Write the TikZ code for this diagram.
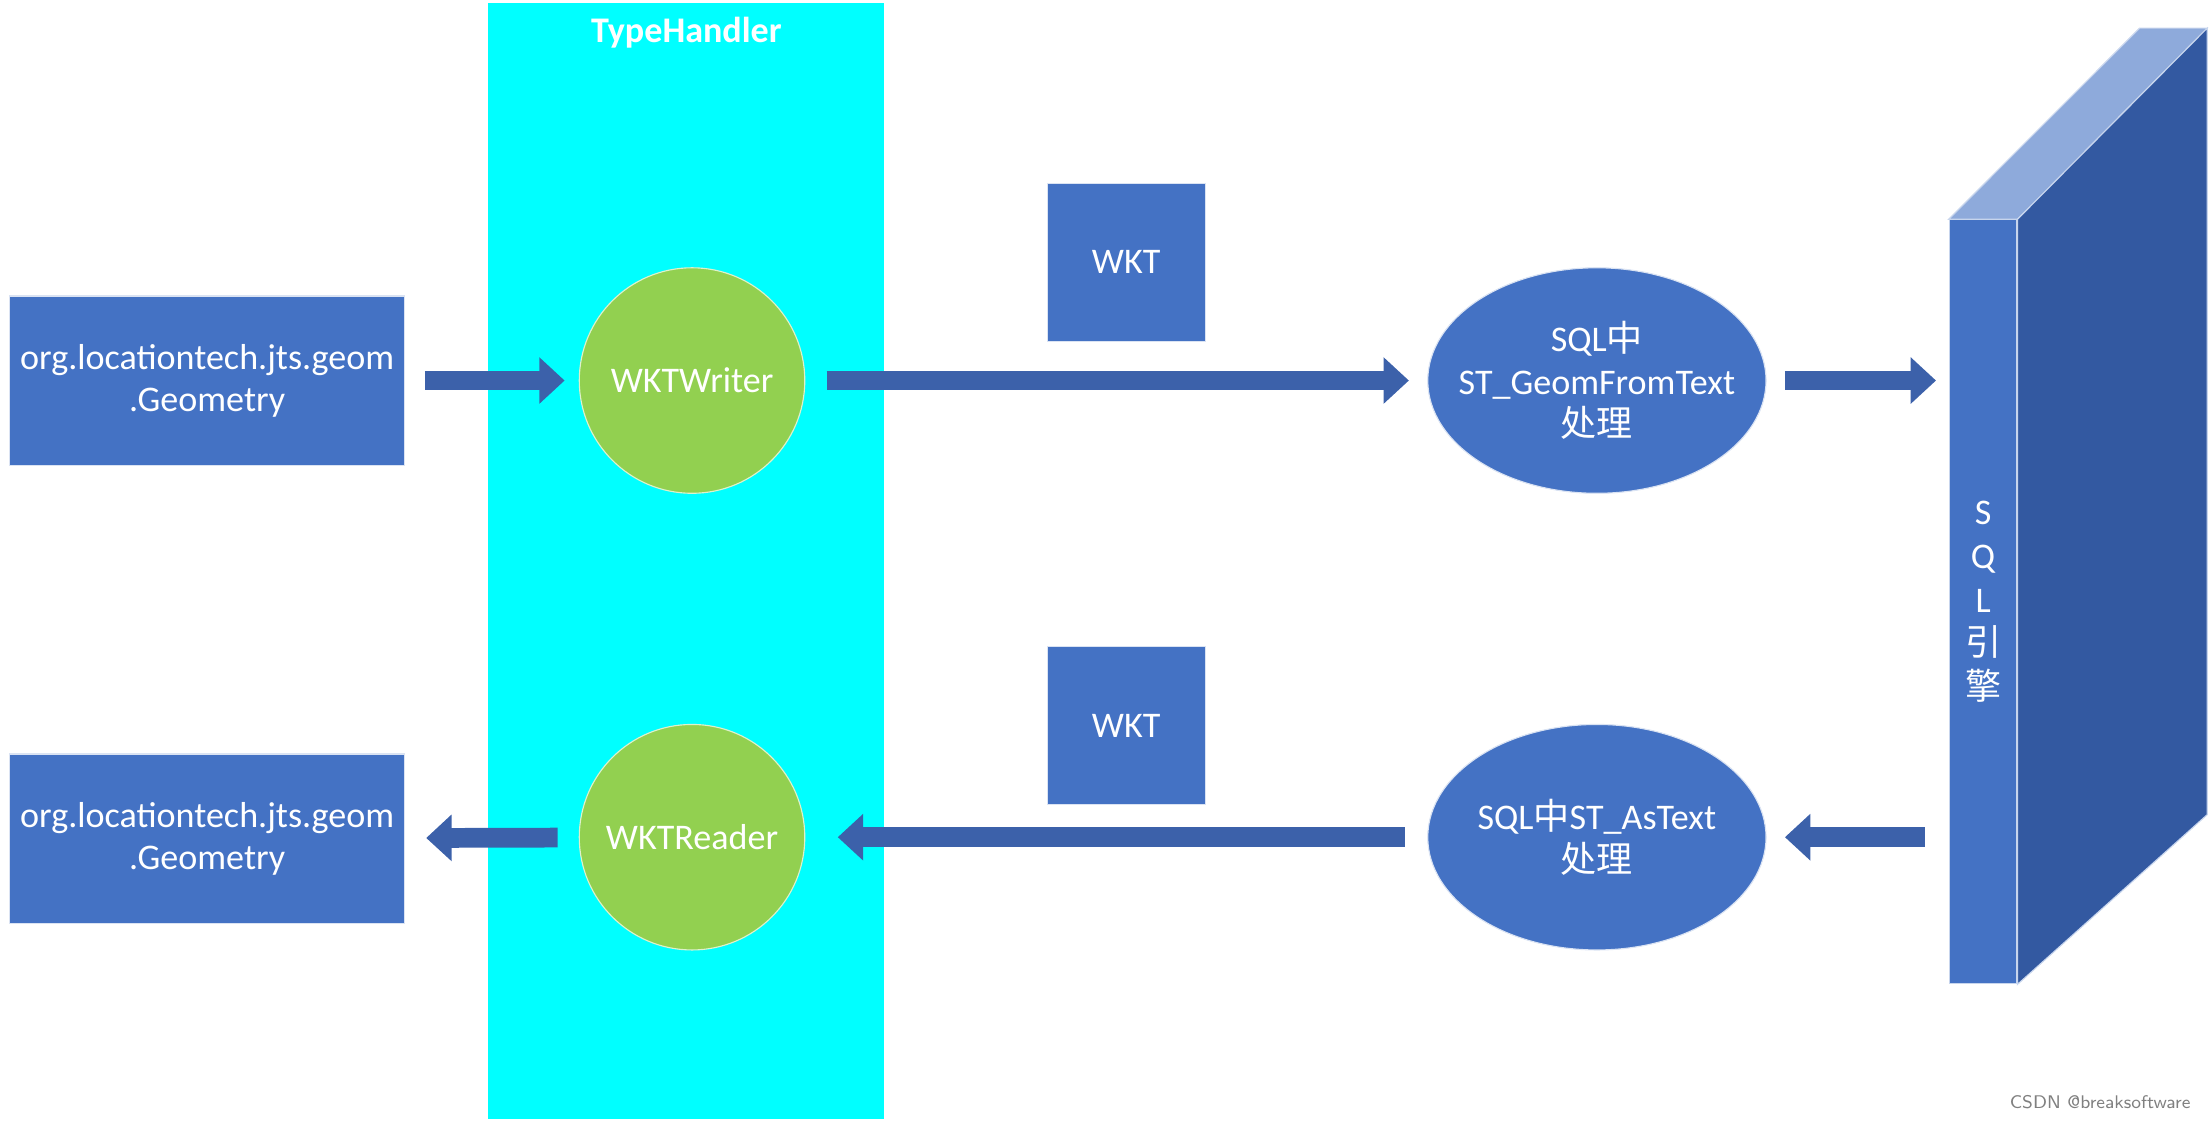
\documentclass[tikz,border=0pt]{standalone}
\usepackage{fontspec}
\setmainfont{Carlito}
\newfontfamily\cjk{Noto Sans CJK SC}
\usetikzlibrary{arrows.meta,shapes.geometric}
\definecolor{boxblue}{HTML}{4472C4}
\definecolor{arrblue}{HTML}{3C61AA}
\definecolor{dark}{HTML}{3359A1}
\definecolor{light}{HTML}{8EAADB}
\definecolor{grn}{HTML}{92D050}
\definecolor{cyanb}{HTML}{00FFFF}
\begin{document}
\begin{tikzpicture}[x=0.5pt,y=-0.5pt,font=\fontsize{12.8}{15}\selectfont,
  box/.style={rectangle,fill=boxblue,draw=white!80!boxblue,line width=0.4pt,text=white,minimum width=140pt,minimum height=60pt,align=center,inner sep=0pt},
  wkt/.style={rectangle,fill=boxblue,draw=white!80!boxblue,line width=0.4pt,text=white,minimum size=56pt,inner sep=0pt},
  circ/.style={circle,fill=grn,draw=white!70!grn,line width=0.4pt,text=white,minimum size=80pt,inner sep=0pt},
  ell/.style={ellipse,fill=boxblue,draw=white!80!boxblue,line width=0.4pt,text=white,minimum width=120pt,minimum height=80pt,inner ysep=0pt,inner xsep=-25pt,align=center},
  arr/.style={draw=arrblue,line width=7pt,-{Triangle[width=16pt,length=9pt]}}]
\useasboundingbox (0,0) rectangle (1568,795);
\node[rectangle,fill=cyanb,minimum width=140.5pt,minimum height=396pt,inner sep=0pt] (th) at (486.5,398) {};
\node[text=white,font=\fontsize{12.8}{15}\selectfont\bfseries] (tht) at (487,23) {TypeHandler};
\node[box] (g1) at (147,270) {org.locationtech.jts.geom\\.Geometry};
\node[box] (g2) at (147,595) {org.locationtech.jts.geom\\.Geometry};
\node[circ] (w) at (491,270) {WKTWriter};
\node[circ] (r) at (491,594) {WKTReader};
\node[wkt] (k1) at (799,186) {WKT};
\node[wkt] (k2) at (799,515) {WKT};
\node[ell] (e1) at (1133,270) {SQL{\cjk 中}\\ST\_GeomFromText\\{\cjk 处理}};
\node[ell] (e2) at (1133,594) {SQL{\cjk 中}ST\_AsText\\{\cjk 处理}};
\node[rectangle,fill=boxblue,draw=white!70!boxblue,line width=0.4pt,minimum width=24pt,minimum height=271pt,inner sep=0pt] (sql) at (1407,427) {};
\fill[light,draw=white!70!boxblue,line width=0.4pt] (sql.north west) -- (1518,20) -- (1566,20) -- (sql.north east) -- cycle;
\fill[dark,draw=white!70!boxblue,line width=0.4pt] (sql.north east) -- (1566,20) -- (1566,578) -- (sql.south east) -- cycle;
\node[text=white,align=center,font=\fontsize{12.8}{15.5}\selectfont] (st) at (1407,427) {S\\Q\\L\\{\cjk 引}\\{\cjk 擎}};
\draw[arr,shorten <=7pt,shorten >=5pt] (g1) -- (w);
\draw[arr,shorten <=7.5pt,shorten >=6.5pt] (w) -- (e1);
\draw[arr,shorten <=6.5pt,shorten >=4.5pt] (e1.east) -- (sql.west |- e1.east);
\draw[arr,shorten <=8.5pt,shorten >=6.5pt] (sql.west |- e2.east) -- (e2.east);
\draw[arr,shorten <=8pt,shorten >=11.5pt] (e2) -- (r);
\draw[arr,shorten <=7.5pt,shorten >=7.5pt] (r) -- (g2);
\node[text=gray,font=\fontsize{6.5}{8}\selectfont\sffamily] (wm) at (1490,782) {CSDN @breaksoftware};
\end{tikzpicture}
\end{document}
